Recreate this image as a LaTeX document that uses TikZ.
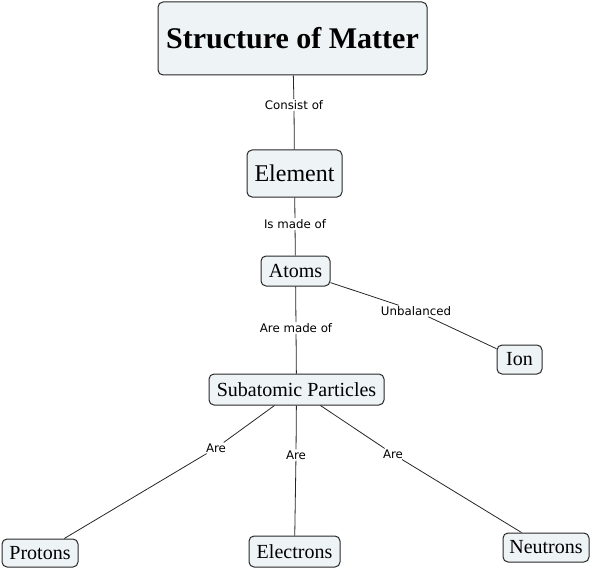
\documentclass[tikz,border=0pt]{standalone}
\usepackage{fontspec}
\setmainfont{Liberation Serif}
\newfontfamily\linkfont{DejaVu Sans}
\usepackage{tikz}
\usetikzlibrary{shapes,arrows}
\definecolor{boxfill}{RGB}{238,243,245}
\definecolor{boxline}{RGB}{40,40,40}
\tikzset{
	concept/.style  = {draw=boxline, fill=boxfill, rounded corners=5pt,
		line width=1pt, inner sep=0pt, font=\fontsize{20}{22}\selectfont},
	link/.style     = {fill=white, inner sep=1pt,
		font=\linkfont\fontsize{11.8}{13}\selectfont}, % linking phrase
	conn/.style     = {draw=black!85, line width=0.8pt} % connector
}

\begin{document}
\begin{tikzpicture}[x=1pt, y=-1pt]
	\useasboundingbox (0,0) rectangle (593,569);
	\draw
	node at (292.5,38.5) [concept, minimum width=269pt, minimum height=73pt,
		font=\fontsize{30}{34}\selectfont\bfseries] (som) {Structure of Matter}
	node at (294.5,173.5) [concept, minimum width=95pt, minimum height=47pt,
		font=\fontsize{24}{26}\selectfont] (elem) {Element}
	node at (295.5,271) [concept, minimum width=69pt, minimum height=30pt] (atoms) {Atoms}
	node at (519.5,359.5) [concept, minimum width=45pt, minimum height=29pt] (ion) {Ion}
	node at (296.5,389.5) [concept, minimum width=175pt, minimum height=31pt] (sub) {Subatomic Particles}
	node at (40,553) [concept, minimum width=76pt, minimum height=28pt] (prot) {Protons}
	node at (294.5,551.5) [concept, minimum width=91pt, minimum height=31pt] (elec) {Electrons}
	node at (546,547.5) [concept, minimum width=86pt, minimum height=29pt] (neut) {Neutrons};

	% linking phrases
	\node[link] (l1) at (294,105) {Consist of};
	\node[link] (l2) at (295,224) {Is made of};
	\node[link] (l3) at (296,328) {Are made of};
	\node[link] (l4) at (416,311) {Unbalanced};
	\node[link] (l5) at (216,448) {Are};
	\node[link] (l6) at (296,455) {Are};
	\node[link] (l7) at (393,454) {Are};

	\draw[conn](som)--(l1)--(elem);
	\draw[conn](elem)--(l2)--(atoms);
	\draw[conn](atoms)--(l3)--(sub);
	\draw[conn](atoms)--(l4)--(ion);
	\draw[conn](sub)--(l5)--(prot);
	\draw[conn](sub)--(l6)--(elec);
	\draw[conn](sub)--(l7)--(neut);
\end{tikzpicture}
\end{document}
